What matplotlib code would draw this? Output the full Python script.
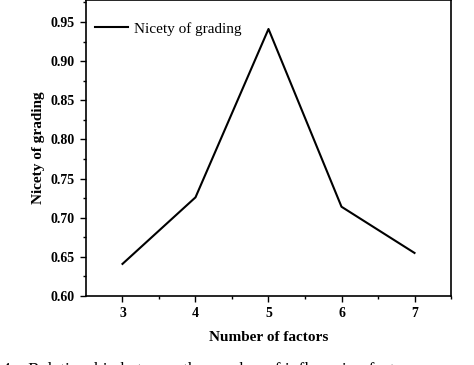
import numpy as np
import matplotlib.pyplot as plt

# Data
factors = [3, 4, 5, 6, 7]
nicety = [0.641, 0.726, 0.941, 0.714, 0.655]
xticks = [3, 4, 5, 6, 7]
yticks = [0.60, 0.65, 0.70, 0.75, 0.80, 0.85, 0.90, 0.95]

plt.rcParams['font.family'] = ['Liberation Serif', 'DejaVu Serif']

fig = plt.figure(figsize=(4.74, 3.65), dpi=100)
ax = fig.add_axes([0.1814, 0.189, 0.7701, 0.811])

ax.plot(factors, nicety, color='black', linewidth=1.5, label='Nicety of grading')

ax.set_xlim(2.5, 7.5)
ax.set_ylim(0.6, 0.978)
ax.set_xticks(xticks)
ax.set_xticks([3.5, 4.5, 5.5, 6.5, 7.5], minor=True)
ax.set_yticks(yticks)
ax.set_yticks(np.arange(0.625, 0.976, 0.05), minor=True)
ax.set_yticklabels([f"{v:.2f}" for v in yticks])
ax.tick_params(axis='both', which='major', direction='out', length=4, width=1,
               labelsize=10, pad=4)
ax.tick_params(axis='both', which='minor', direction='out', length=2, width=1)
for lbl in ax.get_xticklabels() + ax.get_yticklabels():
    lbl.set_fontweight('bold')
for s in ax.spines.values():
    s.set_linewidth(1.2)

ax.set_xlabel('Number of factors', fontsize=11, fontweight='bold', labelpad=8)
ax.set_ylabel('Nicety of grading', fontsize=11, fontweight='bold', labelpad=4)

ax.legend(loc='upper left', frameon=False, fontsize=11, handlelength=2.2,
          handletextpad=0.35, borderaxespad=0.3, bbox_to_anchor=(-0.005, 0.962))

# partially visible caption at the bottom edge
fig.text(0.005, 0.008, '4.   Relationship between the number of influencing factors',
         fontsize=12.5, va='top', ha='left')

fig.savefig('out.png', dpi=100)
